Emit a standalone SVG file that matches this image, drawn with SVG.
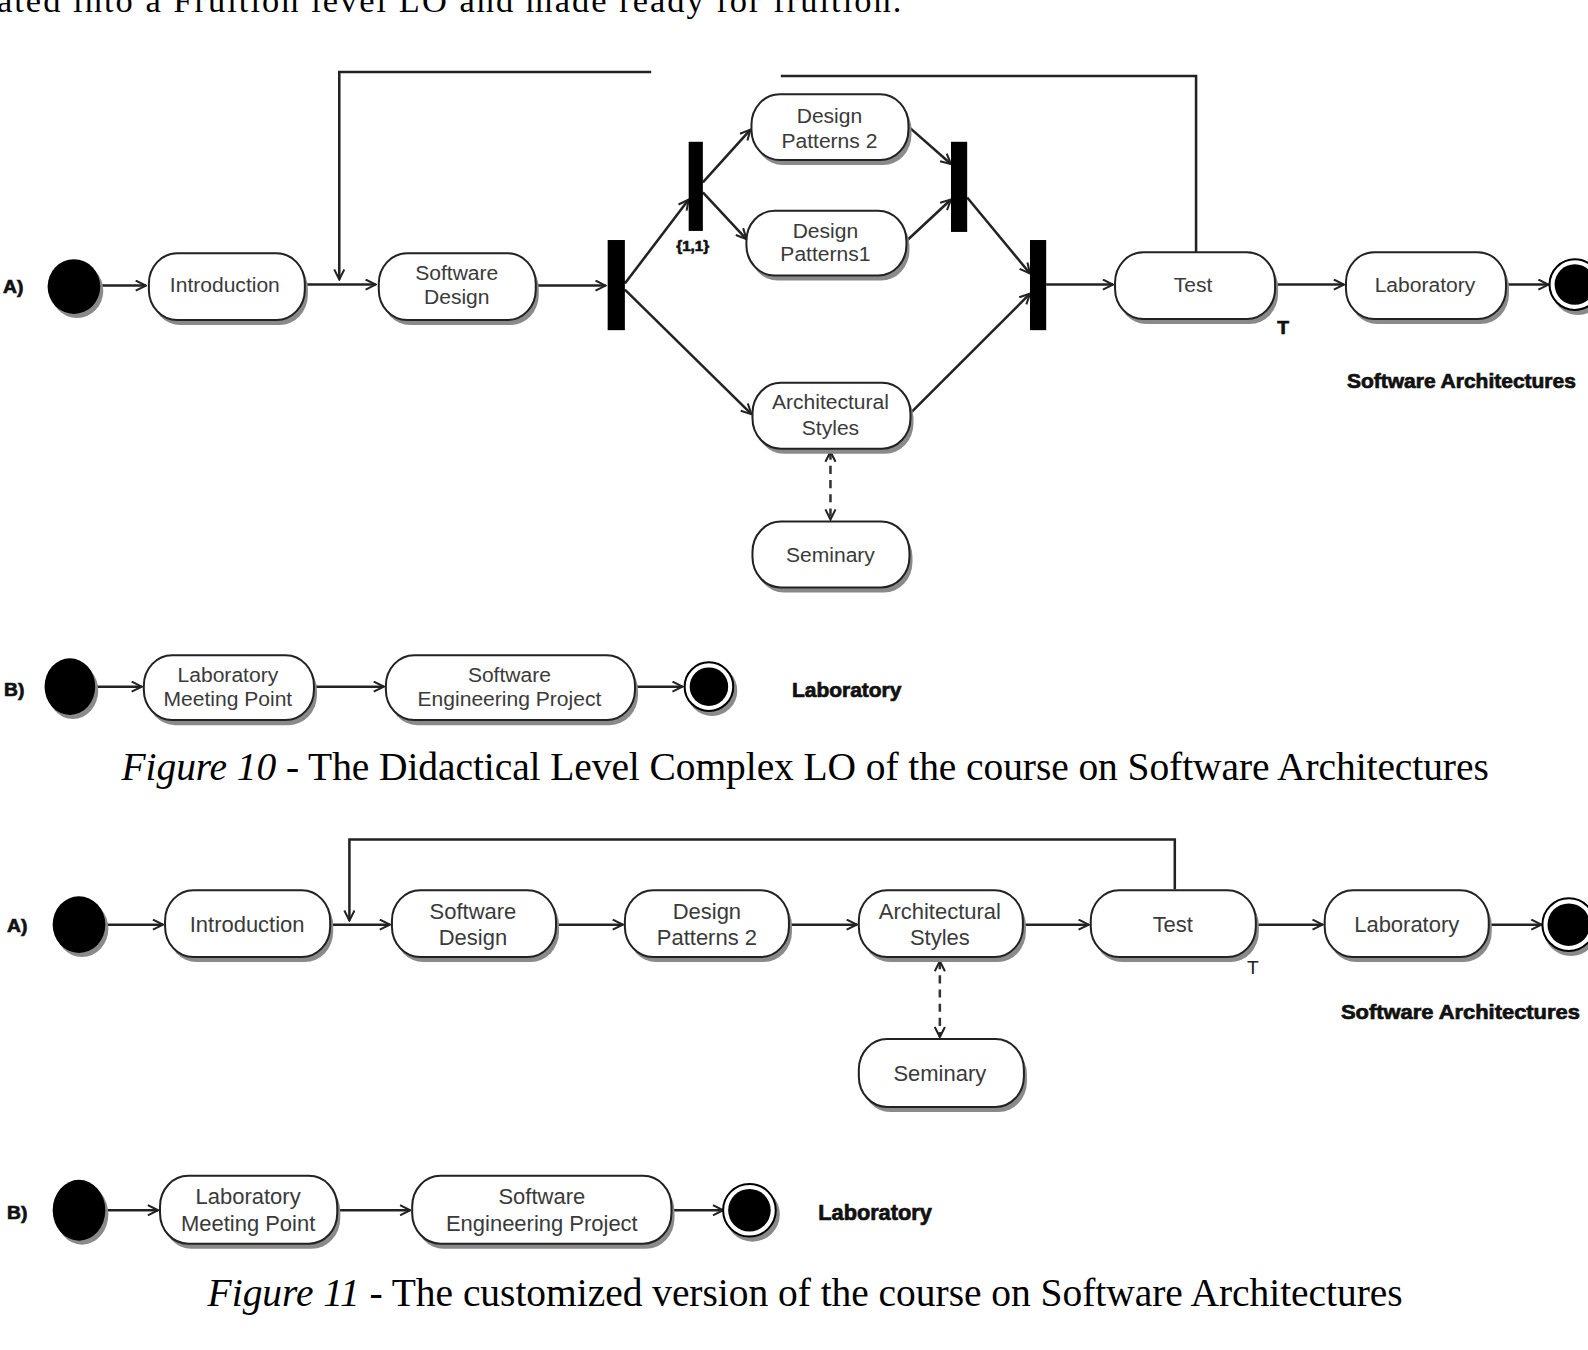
<svg xmlns="http://www.w3.org/2000/svg" width="1588" height="1350" viewBox="0 0 1588 1350">
<style>
.node{fill:#fff;stroke:#222;stroke-width:2}
.sh{fill:#8a8a8a}
.lbl{font-family:"Liberation Sans",Arial,sans-serif;font-size:20.8px;fill:#3a3a3a;text-anchor:middle}
.lbl2{font-family:"Liberation Sans",Arial,sans-serif;font-size:21.7px;fill:#3a3a3a;text-anchor:middle}
.bold{font-family:"Liberation Sans",Arial,sans-serif;font-weight:bold;fill:#111;stroke:#111;stroke-width:0.7}
.cap{font-family:"Liberation Serif","Times New Roman",serif;font-size:39px;fill:#000}
.bar{fill:#000}
.c{fill:none;stroke:#222;stroke-width:2.5}
.d{fill:none;stroke:#333;stroke-width:2.5;stroke-dasharray:8,6}
</style>
<defs>
<marker id="arr" viewBox="0 0 12 12" refX="11" refY="6" markerWidth="12" markerHeight="12" markerUnits="userSpaceOnUse" orient="auto-start-reverse">
<path d="M1,1 L11,6 L1,11" fill="none" stroke="#222" stroke-width="2"/>
</marker>
</defs>
<rect width="1588" height="1350" fill="#fff"/>
<g transform="scale(1.01276)">
<text x="-3" y="12" font-family="Liberation Serif,'Times New Roman',serif" font-size="34" textLength="893">ated into a Frultion level LO and made ready for fruition.</text>

<!-- ===== Figure 10 ===== -->
<g id="connectors10">
<path class="c" d="M1181,249 V75 H771 M643,71 H335 V276" marker-end="url(#arr)"/>
<path class="c" d="M99,282 H144" marker-end="url(#arr)"/>
<path class="c" d="M301,281 H371" marker-end="url(#arr)"/>
<path class="c" d="M529,282 H598" marker-end="url(#arr)"/>
<path class="c" d="M617,280 L680,197" marker-end="url(#arr)"/>
<path class="c" d="M694,180 L741,128" marker-end="url(#arr)"/>
<path class="c" d="M694,190 L737,236" marker-end="url(#arr)"/>
<path class="c" d="M897,125 L939,162" marker-end="url(#arr)"/>
<path class="c" d="M895,238 L939,197" marker-end="url(#arr)"/>
<path class="c" d="M955,195 L1017,270" marker-end="url(#arr)"/>
<path class="c" d="M617,286 L742,409" marker-end="url(#arr)"/>
<path class="c" d="M899,408 L1017,290" marker-end="url(#arr)"/>
<path class="c" d="M1033,281 H1099" marker-end="url(#arr)"/>
<path class="c" d="M1259,281 H1327" marker-end="url(#arr)"/>
<path class="c" d="M1487,281 H1529" marker-end="url(#arr)"/>
<path class="d" d="M820,446 V513" marker-start="url(#arr)" marker-end="url(#arr)"/>
<path class="c" d="M94,678 H140" marker-end="url(#arr)"/>
<path class="c" d="M310,678 H379" marker-end="url(#arr)"/>
<path class="c" d="M627,678 H674" marker-end="url(#arr)"/>
</g>

<text class="bold" x="3" y="289" font-size="19">A)</text>
<g id="start10a"><ellipse cx="76" cy="287" rx="26" ry="27" class="sh"/><ellipse cx="73" cy="283" rx="26" ry="27" fill="#000"/></g>
<g id="introduction10"><rect x="150" y="255" width="154" height="66" rx="28" ry="30" class="sh"/><rect x="147" y="250" width="154" height="66" rx="28" ry="30" class="node"/><text class="lbl" x="222" y="288">Introduction</text></g>
<g id="swdesign10"><rect x="377" y="255" width="155" height="66" rx="28" ry="30" class="sh"/><rect x="374" y="250" width="155" height="66" rx="28" ry="30" class="node"/><text class="lbl" x="451" y="276">Software</text><text class="lbl" x="451" y="300">Design</text></g>
<g id="fork1"><rect x="600" y="237" width="17" height="89" class="bar"/></g>
<g id="fork2"><rect x="680" y="140" width="14" height="88" class="bar"/><text class="bold" x="684" y="248" font-size="15" text-anchor="middle">{1,1}</text></g>
<g id="dp2_10"><rect x="745" y="98" width="155" height="65" rx="28" ry="30" class="sh"/><rect x="742" y="93" width="155" height="65" rx="28" ry="30" class="node"/><text class="lbl" x="819" y="121">Design</text><text class="lbl" x="819" y="146">Patterns 2</text></g>
<g id="dp1_10"><rect x="740" y="213" width="158" height="64" rx="28" ry="30" class="sh"/><rect x="737" y="208" width="158" height="64" rx="28" ry="30" class="node"/><text class="lbl" x="815" y="235">Design</text><text class="lbl" x="815" y="258">Patterns1</text></g>
<g id="join1"><rect x="939" y="140" width="16" height="89" class="bar"/></g>
<g id="join2"><rect x="1017" y="237" width="16" height="89" class="bar"/></g>
<g id="arch10"><rect x="746" y="383" width="156" height="65" rx="28" ry="30" class="sh"/><rect x="743" y="378" width="156" height="65" rx="28" ry="30" class="node"/><text class="lbl" x="820" y="404">Architectural</text><text class="lbl" x="820" y="430">Styles</text></g>
<g id="seminary10"><rect x="746" y="520" width="155" height="65" rx="28" ry="30" class="sh"/><rect x="743" y="515" width="155" height="65" rx="28" ry="30" class="node"/><text class="lbl" x="820" y="555">Seminary</text></g>
<g id="test10"><rect x="1104" y="254" width="158" height="66" rx="28" ry="30" class="sh"/><rect x="1101" y="249" width="158" height="66" rx="28" ry="30" class="node"/><text class="lbl" x="1178" y="288">Test</text><text class="bold" x="1267" y="330" font-size="19" text-anchor="middle">T</text></g>
<g id="lab10"><rect x="1332" y="254" width="158" height="66" rx="28" ry="30" class="sh"/><rect x="1329" y="249" width="158" height="66" rx="28" ry="30" class="node"/><text class="lbl" x="1407" y="288">Laboratory</text></g>
<g id="end10a"><circle cx="1558" cy="285" r="26" class="sh"/><circle cx="1555" cy="281" r="25" fill="#fff" stroke="#000" stroke-width="2"/><circle cx="1555" cy="281" r="20" fill="#000"/></g>
<text class="bold" x="1330" y="383" font-size="20" textLength="226" lengthAdjust="spacingAndGlyphs">Software Architectures</text>

<text class="bold" x="4" y="687" font-size="19">B)</text>
<g id="start10b"><ellipse cx="72" cy="682" rx="25" ry="28" class="sh"/><ellipse cx="69" cy="678" rx="25" ry="28" fill="#000"/></g>
<g id="lmp10"><rect x="145" y="652" width="168" height="64" rx="28" ry="30" class="sh"/><rect x="142" y="647" width="168" height="64" rx="28" ry="30" class="node"/><text class="lbl" x="225" y="673">Laboratory</text><text class="lbl" x="225" y="697">Meeting Point</text></g>
<g id="sep10"><rect x="384" y="652" width="246" height="64" rx="28" ry="30" class="sh"/><rect x="381" y="647" width="246" height="64" rx="28" ry="30" class="node"/><text class="lbl" x="503" y="673">Software</text><text class="lbl" x="503" y="697">Engineering Project</text></g>
<g id="end10b"><circle cx="703" cy="682" r="25" class="sh"/><circle cx="700" cy="678" r="24" fill="#fff" stroke="#000" stroke-width="2"/><circle cx="700" cy="678" r="19" fill="#000"/></g>
<text class="bold" x="782" y="688" font-size="20" textLength="108" lengthAdjust="spacingAndGlyphs">Laboratory</text>

<text class="cap" x="120" y="770" textLength="1350"><tspan font-style="italic">Figure 10</tspan> - The Didactical Level Complex LO of the course on Software Architectures</text>

<!-- ===== Figure 11 ===== -->
<g id="connectors11">
<path class="c" d="M1160,878 V829 H345 V909" marker-end="url(#arr)"/>
<path class="c" d="M104,913 H161" marker-end="url(#arr)"/>
<path class="c" d="M326,913 H385" marker-end="url(#arr)"/>
<path class="c" d="M549,913 H615" marker-end="url(#arr)"/>
<path class="c" d="M779,913 H846" marker-end="url(#arr)"/>
<path class="c" d="M1010,913 H1075" marker-end="url(#arr)"/>
<path class="c" d="M1240,913 H1306" marker-end="url(#arr)"/>
<path class="c" d="M1470,913 H1522" marker-end="url(#arr)"/>
<path class="d" d="M928,949 V1024" marker-start="url(#arr)" marker-end="url(#arr)"/>
<path class="c" d="M104,1195 H156" marker-end="url(#arr)"/>
<path class="c" d="M333,1195 H405" marker-end="url(#arr)"/>
<path class="c" d="M663,1195 H714" marker-end="url(#arr)"/>
</g>

<text class="bold" x="7" y="920" font-size="19">A)</text>
<g id="start11a"><ellipse cx="81" cy="917" rx="26" ry="28" class="sh"/><ellipse cx="78" cy="913" rx="26" ry="28" fill="#000"/></g>
<g id="introduction11"><rect x="166" y="884" width="163" height="66" rx="28" ry="30" class="sh"/><rect x="163" y="879" width="163" height="66" rx="28" ry="30" class="node"/><text class="lbl2" x="244" y="920">Introduction</text></g>
<g id="swdesign11"><rect x="390" y="884" width="162" height="66" rx="28" ry="30" class="sh"/><rect x="387" y="879" width="162" height="66" rx="28" ry="30" class="node"/><text class="lbl2" x="467" y="907">Software</text><text class="lbl2" x="467" y="933">Design</text></g>
<g id="dp2_11"><rect x="620" y="884" width="162" height="66" rx="28" ry="30" class="sh"/><rect x="617" y="879" width="162" height="66" rx="28" ry="30" class="node"/><text class="lbl2" x="698" y="907">Design</text><text class="lbl2" x="698" y="933">Patterns 2</text></g>
<g id="arch11"><rect x="851" y="884" width="162" height="66" rx="28" ry="30" class="sh"/><rect x="848" y="879" width="162" height="66" rx="28" ry="30" class="node"/><text class="lbl2" x="928" y="907">Architectural</text><text class="lbl2" x="928" y="933">Styles</text></g>
<g id="test11"><rect x="1080" y="884" width="163" height="66" rx="28" ry="30" class="sh"/><rect x="1077" y="879" width="163" height="66" rx="28" ry="30" class="node"/><text class="lbl2" x="1158" y="920">Test</text><text x="1237" y="962" font-family="Liberation Sans,Arial,sans-serif" font-size="19" fill="#222" text-anchor="middle">T</text></g>
<g id="lab11"><rect x="1311" y="884" width="162" height="66" rx="28" ry="30" class="sh"/><rect x="1308" y="879" width="162" height="66" rx="28" ry="30" class="node"/><text class="lbl2" x="1389" y="920">Laboratory</text></g>
<g id="end11a"><circle cx="1551" cy="917" r="27" class="sh"/><circle cx="1549" cy="913" r="26" fill="#fff" stroke="#000" stroke-width="2"/><circle cx="1549" cy="913" r="21" fill="#000"/></g>
<g id="seminary11"><rect x="851" y="1031" width="163" height="67" rx="28" ry="30" class="sh"/><rect x="848" y="1026" width="163" height="67" rx="28" ry="30" class="node"/><text class="lbl2" x="928" y="1067">Seminary</text></g>
<text class="bold" x="1324" y="1006" font-size="20" textLength="236" lengthAdjust="spacingAndGlyphs">Software Architectures</text>

<text class="bold" x="7" y="1204" font-size="19">B)</text>
<g id="start11b"><ellipse cx="81" cy="1199" rx="26" ry="30" class="sh"/><ellipse cx="78" cy="1195" rx="26" ry="30" fill="#000"/></g>
<g id="lmp11"><rect x="161" y="1166" width="175" height="67" rx="28" ry="30" class="sh"/><rect x="158" y="1161" width="175" height="67" rx="28" ry="30" class="node"/><text class="lbl2" x="245" y="1189">Laboratory</text><text class="lbl2" x="245" y="1215">Meeting Point</text></g>
<g id="sep11"><rect x="410" y="1166" width="256" height="67" rx="28" ry="30" class="sh"/><rect x="407" y="1161" width="256" height="67" rx="28" ry="30" class="node"/><text class="lbl2" x="535" y="1189">Software</text><text class="lbl2" x="535" y="1215">Engineering Project</text></g>
<g id="end11b"><circle cx="743" cy="1199" r="27" class="sh"/><circle cx="740" cy="1195" r="26" fill="#fff" stroke="#000" stroke-width="2"/><circle cx="740" cy="1195" r="21" fill="#000"/></g>
<text class="bold" x="808" y="1205" font-size="21" textLength="112" lengthAdjust="spacingAndGlyphs">Laboratory</text>

<text class="cap" x="205" y="1290" textLength="1180"><tspan font-style="italic">Figure 11</tspan> - The customized version of the course on Software Architectures</text>
</g>
</svg>
